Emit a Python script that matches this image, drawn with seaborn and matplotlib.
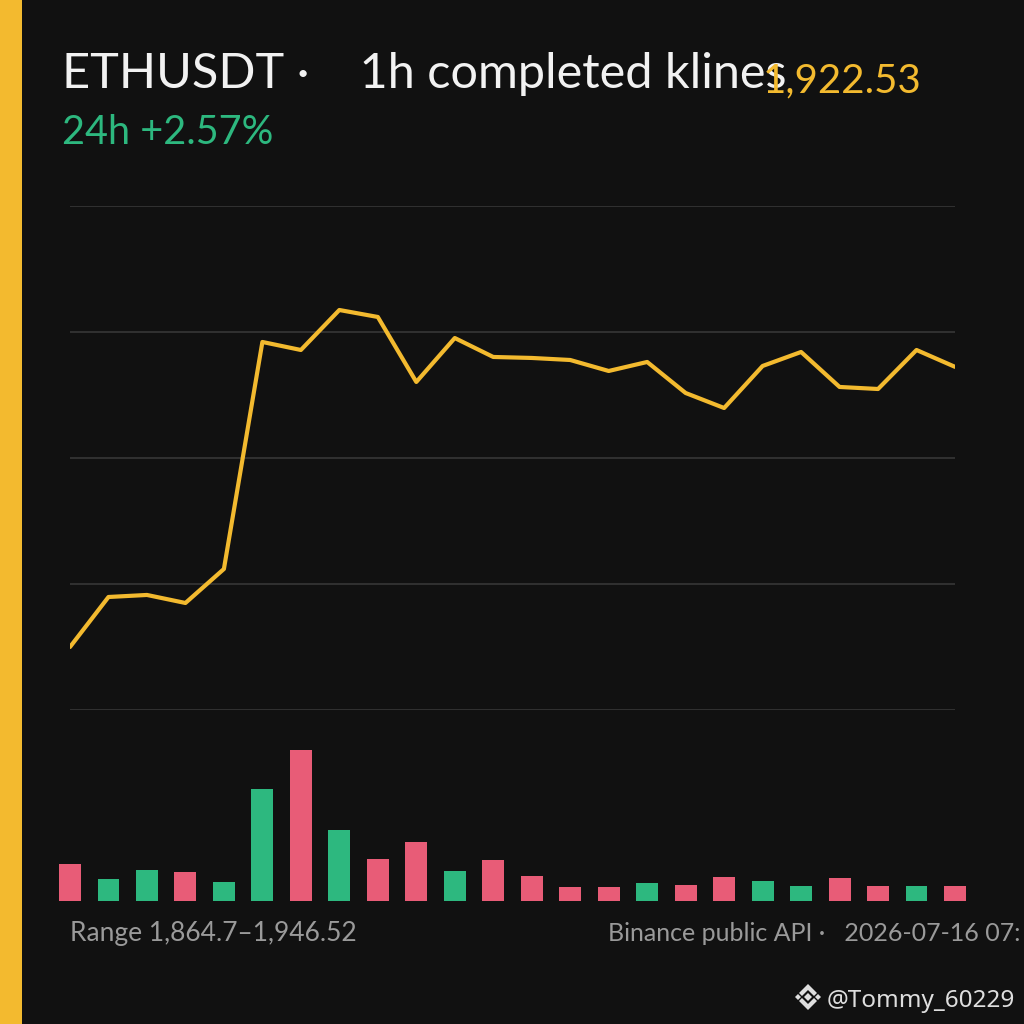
import numpy as np
import pandas as pd
import matplotlib
matplotlib.use("Agg")
import matplotlib.pyplot as plt
from matplotlib.patches import Polygon
import seaborn as sns

# ---- data ----
hours = list(range(24))
closes = [1874.34, 1882.94, 1883.29, 1881.91, 1887.76, 1926.81, 1925.43, 1932.31,
          1931.11, 1919.93, 1927.49, 1924.23, 1924.06, 1923.71, 1921.82, 1923.37,
          1918.03, 1915.45, 1922.68, 1925.09, 1919.07, 1918.72, 1925.43, 1922.53]
volumes = [3700, 2200, 3100, 2900, 1900, 11200, 15100, 7100, 4200, 5900, 3000, 4100,
           2500, 1400, 1400, 1800, 1600, 2400, 2000, 1500, 2300, 1500, 1500, 1500]
direction = ["down", "up", "up", "down", "up", "up", "down", "up", "down", "down", "up", "down",
             "down", "down", "down", "up", "down", "down", "up", "up", "down", "down", "up", "down"]
title_text = "ETHUSDT ·    1h completed klines"
price_text = "1,922.53"
change_text = "24h +2.57%"
range_text = "Range 1,864.7–1,946.52"
source_text = "Binance public API ·   2026-07-16 07:"
handle_text = "@Tommy_60229"
price_ylim = (1863.5, 1950.2)

BG = "#111111"
YEL = "#F3BA2F"
GREEN = "#2DB87F"
RED = "#E85C77"
GRID = "#3a3a3a"

sns.set_theme(style="dark")
plt.rcParams["font.family"] = ["Lato", "DejaVu Sans"]

W = 1024
fig = plt.figure(figsize=(10.24, 10.24), dpi=100, facecolor=BG)

def fx(px):
    return px / W

def fy(py):
    return 1 - py / W

# left accent stripe
fig.patches.append(plt.Rectangle((0, 0), fx(22), 1, transform=fig.transFigure,
                                 facecolor=YEL, edgecolor="none", zorder=0))

# ---- price line ----
ax = fig.add_axes([fx(70), fy(710), fx(955 - 70), (710 - 206) / W])
ax.set_facecolor("none")
df = pd.DataFrame({"hour": hours, "close": closes})
sns.lineplot(data=df, x="hour", y="close", ax=ax, color=YEL, linewidth=3.0, zorder=3)
ax.set_xlim(0, 23)
ax.set_ylim(*price_ylim)
ax.set_yticks(np.linspace(price_ylim[0], price_ylim[1], 5))
ax.grid(True, axis="y", color=GRID, linewidth=1.1)
ax.grid(False, axis="x")
ax.set_xticks([])
ax.tick_params(left=False, bottom=False, labelleft=False, labelbottom=False)
ax.set_xlabel("")
ax.set_ylabel("")
for s in ax.spines.values():
    s.set_visible(False)

# ---- volume bars ----
step = (955 - 70) / 23.0
vtop_px = 160
axv = fig.add_axes([fx(70 - step / 2), fy(901), fx(955 - 70 + step), vtop_px / W])
axv.set_facecolor("none")
vdf = pd.DataFrame({"hour": hours, "volume": volumes, "dir": direction})
sns.barplot(data=vdf, x="hour", y="volume", hue="dir", palette={"up": GREEN, "down": RED},
            dodge=False, width=0.57, ax=axv, legend=False, saturation=1,
            edgecolor="none", linewidth=0)
axv.set_xlim(-0.5, 23.5)
axv.set_ylim(0, max(volumes) * vtop_px / 151)
axv.set_xticks([])
axv.set_yticks([])
axv.set_xlabel("")
axv.set_ylabel("")
axv.grid(False)
for s in axv.spines.values():
    s.set_visible(False)

# ---- texts ----
fig.text(fx(62), fy(88), title_text, color="#f2f2f2", fontsize=35, ha="left", va="baseline")
fig.text(fx(921), fy(92), price_text, color=YEL, fontsize=29, ha="right", va="baseline")
fig.text(fx(62), fy(144), change_text, color=GREEN, fontsize=28.5, ha="left", va="baseline")
fig.text(fx(70), fy(941), range_text, color="#9a9a9a", fontsize=19, ha="left", va="baseline")
fig.text(fx(1020), fy(941), source_text, color="#9a9a9a", fontsize=18, ha="right", va="baseline")
fig.text(fx(1015), fy(1007), handle_text, color="#dedede", fontsize=17.5,
         ha="right", va="baseline", family=["Noto Sans", "DejaVu Sans"])

# binance-like logo
cx, cy = 808, 997
LOGO = "#dedede"
def poly(pts):
    fig.patches.append(Polygon([(fx(cx + dx), fy(cy + dy)) for dx, dy in pts], closed=True,
                               transform=fig.transFigure, facecolor=LOGO, edgecolor="none"))
poly([(0, -4), (4, 0), (0, 4), (-4, 0)])
poly([(-13, 0), (-10, -3), (-7, 0), (-10, 3)])
poly([(13, 0), (10, -3), (7, 0), (10, 3)])
poly([(0, -13), (9, -4), (6, -1), (0, -7), (-6, -1), (-9, -4)])
poly([(0, 13), (9, 4), (6, 1), (0, 7), (-6, 1), (-9, 4)])

fig.savefig("out.png", dpi=100, facecolor=BG)
